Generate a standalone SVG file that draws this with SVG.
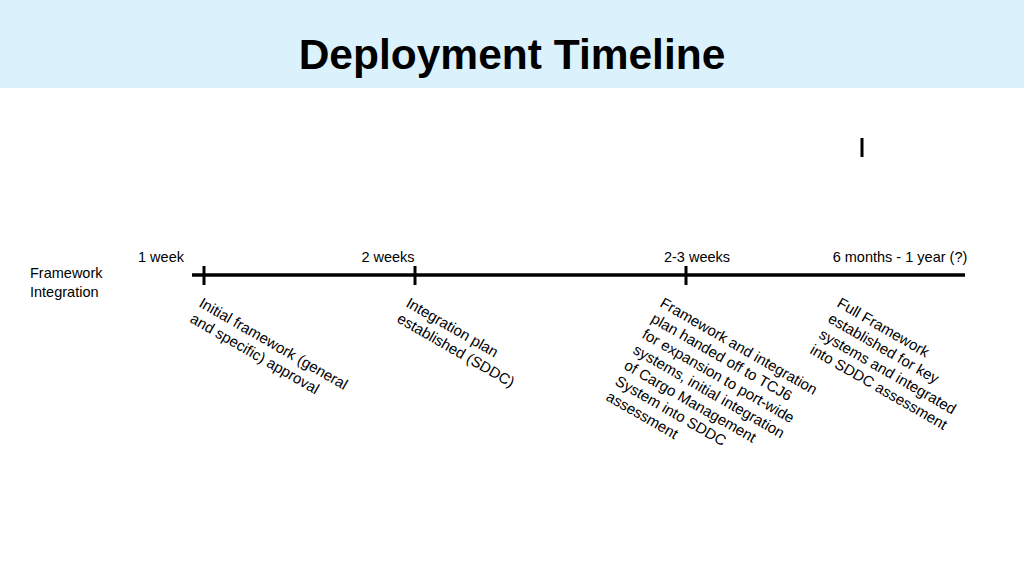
<svg xmlns="http://www.w3.org/2000/svg" width="1024" height="576" viewBox="0 0 1024 576">
<style>
.t{font-family:"Liberation Sans",Arial,sans-serif;font-size:14.5px;fill:#000}
.r{font-family:"Liberation Sans",Arial,sans-serif;font-size:15px;fill:#000}
.tick{stroke:#000;stroke-width:3}
</style>
<rect x="0" y="0" width="1024" height="576" fill="#fff"/>
<rect x="0" y="0" width="1024" height="88" fill="#dbf2fc"/>
<text x="512" y="69" text-anchor="middle" font-family="Liberation Sans,Arial,sans-serif" font-weight="bold" font-size="42.5">Deployment Timeline</text>
<g id="connectors">
<line x1="192" y1="275" x2="965" y2="275" stroke="#000" stroke-width="3.5"/>
<line class="tick" x1="204" y1="266" x2="204" y2="285"/>
<line class="tick" x1="415" y1="266" x2="415" y2="285"/>
<line class="tick" x1="686" y1="266" x2="686" y2="285"/>
<line x1="862" y1="138" x2="862" y2="157" stroke="#000" stroke-width="3"/>
</g>
<g id="row-label"><text class="t" x="30" y="278">Framework</text><text class="t" x="30" y="297">Integration</text></g>
<g id="m1">
<text class="t" x="161" y="262" text-anchor="middle">1 week</text>
<text class="r" transform="translate(198,306) rotate(30)"><tspan x="0" y="0">Initial framework (general</tspan><tspan x="0" y="18">and specific) approval</tspan></text>
</g>
<g id="m2">
<text class="t" x="388" y="262" text-anchor="middle">2 weeks</text>
<text class="r" transform="translate(405,306) rotate(30)"><tspan x="0" y="0">Integration plan</tspan><tspan x="0" y="18">established (SDDC)</tspan></text>
</g>
<g id="m3">
<text class="t" x="697" y="262" text-anchor="middle">2-3 weeks</text>
<text class="r" transform="translate(659,306) rotate(30)"><tspan x="0" y="0">Framework and integration</tspan><tspan x="0" y="18">plan handed off to TCJ6</tspan><tspan x="0" y="36">for expansion to port-wide</tspan><tspan x="0" y="54">systems, initial integration</tspan><tspan x="0" y="72">of Cargo Management</tspan><tspan x="0" y="90">System into SDDC</tspan><tspan x="0" y="108">assessment</tspan></text>
</g>
<g id="m4">
<text class="t" x="900" y="262" text-anchor="middle">6 months - 1 year (?)</text>
<text class="r" transform="translate(836,306) rotate(30)"><tspan x="0" y="0">Full Framework</tspan><tspan x="0" y="18">established for key</tspan><tspan x="0" y="36">systems and integrated</tspan><tspan x="0" y="54">into SDDC assessment</tspan></text>
</g>
</svg>
